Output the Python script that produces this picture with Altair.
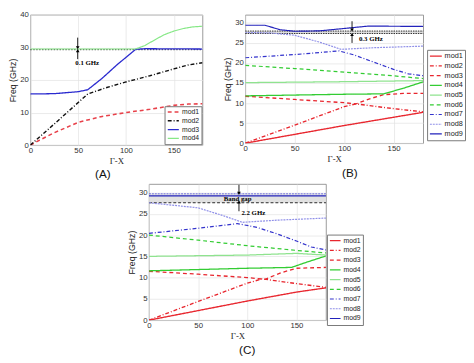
import altair as alt
import pandas as pd

# ---------------- data ----------------
a_modes = ["mod1", "mod2", "mod3", "mod4"]
a_mod1 = [[0, 0], [10, 1.6], [25, 3.8], [50, 7.0], [75, 8.8], [100, 10.0], [125, 11.0], [150, 12.2], [165, 12.6], [180, 12.7]]
a_mod2 = [[0, 0], [30, 7.8], [60, 15.7], [80, 17.7], [100, 19.4], [125, 21.3], [150, 23.4], [165, 24.6], [180, 25.3]]
a_mod3 = [[0, 15.7], [25, 15.8], [50, 16.4], [60, 17.0], [75, 20.5], [90, 24.5], [110, 29.4], [120, 29.6], [180, 29.5]]
a_mod4 = [[0, 29.5], [110, 29.5], [120, 30.6], [130, 32.3], [140, 33.9], [150, 35.0], [160, 35.8], [170, 36.3], [180, 36.5]]

b_modes = ["mod1", "mod2", "mod3", "mod4", "mod5", "mod6", "mod7", "mod8", "mod9"]
b_mod1 = [[0, 0], [100, 4.4], [180, 7.7]]
b_mod2 = [[0, 0], [50, 4.5], [100, 9.1], [112, 9.8], [140, 8.9], [180, 7.8]]
b_mod3 = [[0, 11.7], [50, 10.9], [100, 10.1], [112, 9.8], [125, 11.0], [140, 12.1], [160, 12.4], [180, 12.4]]
b_mod4 = [[0, 11.8], [50, 12.0], [100, 12.2], [140, 12.3], [160, 13.7], [180, 15.3]]
b_mod5 = [[0, 15.1], [90, 15.3], [180, 15.6]]
b_mod6 = [[0, 19.4], [50, 18.6], [100, 17.7], [150, 16.8], [180, 16.1]]
b_mod7 = [[0, 21.3], [50, 22.1], [95, 23.0], [110, 22.0], [130, 20.2], [150, 18.4], [165, 17.3], [180, 16.8]]
b_mod8 = [[0, 27.6], [25, 27.5], [50, 26.9], [75, 25.2], [97, 23.4], [130, 23.8], [180, 24.2]]
b_mod9 = [[0, 29.4], [20, 29.4], [35, 28.3], [50, 27.9], [75, 28.0], [100, 28.6], [125, 29.2], [180, 29.1]]

c_mod1 = [[0, 0], [100, 4.5], [150, 6.6], [180, 7.6]]
c_mod2 = [[0, 0], [50, 4.4], [100, 8.7], [115, 9.7], [150, 8.6], [180, 7.7]]
c_mod3 = [[0, 11.5], [50, 10.8], [100, 10.0], [118, 9.6], [135, 11.2], [150, 12.2], [180, 12.4]]
c_mod4 = [[0, 11.6], [50, 11.9], [100, 12.2], [145, 12.4], [160, 13.6], [180, 15.1]]
c_mod5 = [[0, 15.0], [100, 15.3], [150, 15.7], [180, 15.3]]
c_mod6 = [[0, 20.0], [50, 18.8], [100, 17.5], [150, 16.4], [180, 15.8]]
c_mod7 = [[0, 20.4], [50, 21.6], [90, 22.7], [110, 21.8], [130, 20.3], [150, 18.6], [165, 17.2], [180, 16.5]]
c_mod8 = [[0, 27.6], [50, 26.4], [75, 24.6], [95, 23.0], [130, 23.5], [180, 24.0]]
c_mod9 = [[0, 29.2], [180, 29.2]]

x_ticks = [0, 50, 100, 150]
a_y_ticks = [0, 10, 20, 30, 40]
bc_y_ticks = [0, 5, 10, 15, 20, 25, 30]

# band-gap edges (y), arrows (x, y_from, y_to) and notes (x, y, text)
a_edges = [29.3]
a_arrows = [[49.5, 33.0, 29.9], [49.5, 26.4, 29.0]]
a_notes = [[47, 25.2, "0.1 GHz"]]

b_band = [27.35, 27.95]
b_edges = [27.35, 27.95]
b_arrows = [[108, 30.4, 28.2], [108, 25.0, 27.1]]
b_notes = [[115, 26.0, "0.3 GHz"]]

c_band = [27.6, 29.6]
c_edges = [27.6]
c_top_edge = [29.7]
c_arrows = [[91.5, 31.8, 29.8], [91.5, 25.6, 27.8]]
c_notes = [[76, 28.4, "Band gap"], [94, 25.1, "2.2 GHz"]]

# ---------------- styles ----------------
RED, BLACK, BLUE = "#e8262e", "#111111", "#2a2acf"
a_colors = ["#e8414a", BLACK, BLUE, "#86e886"]
a_dashes = [[4, 3], [4, 2, 1, 2], [1, 0], [1, 0]]
a_widths = [1.6, 1.2, 1.8, 1.3]

b_colors = [RED, RED, RED, "#33cc33", "#8fe38f", "#33cc33", "#3333cc", "#8f8fe8", "#2222bb"]
b_dashes = [[1, 0], [4, 2, 1, 2], [4, 3], [1, 0], [1, 0], [4, 3], [4, 2, 1, 2], [2, 1], [1, 0]]
b_widths = [1.4, 1.2, 1.2, 1.8, 1.3, 1.3, 1.5, 1.3, 1.6]


def frame(series, modes):
    rows = []
    for m, pts in zip(modes, series):
        for x, y in pts:
            rows.append({"mode": m, "x": x, "y": y})
    return pd.DataFrame(rows)


def panel(series, modes, colors, dashes, widths, ymax, yticks, w, h, legend,
          band, edges, edge_dash, top_edge, arrows, notes, note_size, title, title_dx, title_off):
    xs = alt.Scale(domain=[0, 180], nice=False, zero=False)
    ys = alt.Scale(domain=[0, ymax], nice=False, zero=False)
    xax = alt.Axis(values=x_ticks, title="Γ-X", titleFont="Liberation Serif",
                   titleFontSize=9, grid=True, labelFlush=False)
    yax = alt.Axis(values=yticks, title="Freq (GHz)", grid=True, labelFlush=False)

    def X(f):
        return alt.X(f, type="quantitative", scale=xs, axis=xax)

    def Y(f):
        return alt.Y(f, type="quantitative", scale=ys, axis=yax)

    layers = []
    if band is not None:
        bdf = pd.DataFrame({"x0": [0], "x1": [180], "y0": [band[0]], "y1": [band[1]]})
        layers.append(alt.Chart(bdf).mark_rect(color="#d9d9d9", opacity=0.8)
                      .encode(x=X("x0"), x2="x1", y=Y("y0"), y2="y1"))
    edf = pd.DataFrame({"x0": [0] * len(edges), "x1": [180] * len(edges), "y": edges})
    layers.append(alt.Chart(edf).mark_rule(color="#111", strokeWidth=0.9, strokeDash=edge_dash)
                  .encode(x=X("x0"), x2="x1", y=Y("y")))
    if top_edge is not None:
        tdf = pd.DataFrame({"x0": [0], "x1": [180], "y": top_edge})
        layers.append(alt.Chart(tdf).mark_rule(color="#6a6ad8", strokeWidth=1.0, strokeDash=[2, 1])
                      .encode(x=X("x0"), x2="x1", y=Y("y")))

    ldf = frame(series, modes)
    lg = legend
    layers.append(
        alt.Chart(ldf).mark_line(clip=True).encode(
            x=X("x"), y=Y("y"),
            color=alt.Color("mode:N", scale=alt.Scale(domain=modes, range=colors), legend=lg),
            strokeDash=alt.StrokeDash("mode:N", scale=alt.Scale(domain=modes, range=dashes), legend=lg),
            strokeWidth=alt.StrokeWidth("mode:N", scale=alt.Scale(domain=modes, range=widths), legend=lg),
        )
    )

    adf = pd.DataFrame([{"x": a[0], "y0": a[1], "y1": a[2],
                         "shape": "triangle-down" if a[2] < a[1] else "triangle-up"} for a in arrows])
    layers.append(alt.Chart(adf).mark_rule(color="#000", strokeWidth=0.9)
                  .encode(x=X("x"), y=Y("y0"), y2="y1"))
    layers.append(alt.Chart(adf).mark_point(filled=True, color="#000", size=14, opacity=1)
                  .encode(x=X("x"), y=Y("y1"),
                          shape=alt.Shape("shape:N", scale=None, legend=None)))

    ndf = pd.DataFrame([{"x": n[0], "y": n[1], "t": n[2]} for n in notes])
    layers.append(alt.Chart(ndf).mark_text(font="Liberation Serif", fontWeight="bold", fontSize=note_size,
                                           align="left", baseline="middle", color="#000")
                  .encode(x=X("x"), y=Y("y"), text="t:N"))

    return alt.layer(*layers).properties(
        width=w, height=h,
        title=alt.TitleParams(title, orient="bottom", anchor="middle", frame="group",
                              font="Liberation Sans", fontSize=12, fontWeight="normal",
                              color="#111", offset=title_off, dx=title_dx),
    )


def leg(**kw):
    base = dict(title=None, labelFontSize=7, labelFont="Liberation Sans", labelColor="#222",
                symbolType="stroke", symbolSize=150, rowPadding=1, padding=2,
                strokeColor="#777", fillColor="white", cornerRadius=0, labelOffset=2)
    base.update(kw)
    return alt.Legend(**base)


A = panel([a_mod1, a_mod2, a_mod3, a_mod4], a_modes, a_colors, a_dashes, a_widths,
          40, a_y_ticks, 177, 134,
          leg(orient="bottom-right", offset=1, clipHeight=8, symbolSize=130),
          None, a_edges, [1.5, 1.5], None, a_arrows, a_notes, 7, "(A)", -14, 4)

B = panel([b_mod1, b_mod2, b_mod3, b_mod4, b_mod5, b_mod6, b_mod7, b_mod8, b_mod9],
          b_modes, b_colors, b_dashes, b_widths,
          32, bc_y_ticks, 183, 132,
          leg(orient="none", legendX=187, legendY=36, clipHeight=9, rowPadding=1, labelFontSize=7.5),
          b_band, b_edges, [1.5, 1], None, b_arrows, b_notes, 7, "(B)", 16, 5)

C = panel([c_mod1, c_mod2, c_mod3, c_mod4, c_mod5, c_mod6, c_mod7, c_mod8, c_mod9],
          b_modes, b_colors, b_dashes, b_widths,
          32, bc_y_ticks, 182, 140,
          leg(orient="none", legendX=183, legendY=52, clipHeight=8.5, rowPadding=1, labelFontSize=7,
              symbolSize=120),
          c_band, c_edges, [3, 2], c_top_edge, c_arrows, c_notes, 7, "(C)", 10, 5)

spacer = alt.Chart(pd.DataFrame({"s": [0]})).mark_point(opacity=0).properties(
    width=98, height=10, view=alt.ViewBackground(stroke="transparent"))

top = alt.hconcat(A, B, spacing=20).resolve_scale(color="independent", strokeDash="independent",
                                                   strokeWidth="independent", shape="independent")
bottom = alt.hconcat(spacer, C, spacing=0).resolve_scale(color="independent", strokeDash="independent",
                                                         strokeWidth="independent", shape="independent")
chart = alt.vconcat(top, bottom, spacing=2).resolve_scale(
    color="independent", strokeDash="independent", strokeWidth="independent", shape="independent"
).properties(padding={"top": -3, "left": 0, "right": 0, "bottom": 0}).configure_view(
    stroke="#808080", strokeWidth=0.8).configure_axis(
    labelFont="Liberation Sans", labelFontSize=8, labelColor="#333", ticks=False, domain=False,
    gridColor="#e2e2e2", gridWidth=0.7, labelPadding=2, titleFont="Liberation Sans",
    titleFontSize=9, titleFontWeight="normal", titleColor="#222", titlePadding=2
)

chart.save("out.html", embed_options={"renderer": "svg", "actions": False})
